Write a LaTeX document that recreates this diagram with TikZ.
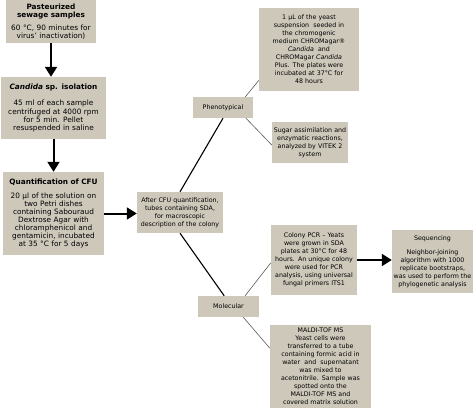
\documentclass[tikz,border=0pt]{standalone}
\usepackage{fontspec}
\setmainfont{DejaVu Sans}
\usetikzlibrary{arrows.meta,calc}
\definecolor{boxfill}{HTML}{CEC8BB}
\definecolor{thinline}{HTML}{5A5A5A}
\tikzset{
  box/.style={fill=boxfill, draw=none, inner sep=0pt, align=center, rectangle},
  bigtext/.style={font=\fontsize{7.35}{8.1}\selectfont},
  smalltext/.style={font=\fontsize{6.3}{8}\selectfont},
  bigarrow/.style={line width=2pt, -{Triangle[width=12pt,length=10pt]}},
  mainline/.style={line width=1.1pt, black},
  subline/.style={line width=0.6pt, thinline}
}
\begin{document}
\begin{tikzpicture}[x=1pt,y=-1pt]
\useasboundingbox (0,0) rectangle (474,409);
% left column
\node[box,bigtext,minimum width=90pt,minimum height=43pt,text width=90pt] (B1) at (51,21.5)
  {\textbf{Pasteurized}\\\textbf{sewage samples}\\[5pt]60 °C, 90 minutes for\\virus' inactivation)};
\node[box,bigtext,minimum width=105pt,minimum height=62pt,text width=105pt] (B2) at (53.5,108)
  {\textbf{\textit{Candida} sp. isolation}\\[8pt]45 ml of each sample\\centrifuged at 4000 rpm\\for 5 min. Pellet\\resuspended in saline};
\node[box,bigtext,minimum width=101pt,minimum height=83pt,text width=101pt] (B3) at (53.5,213.5)
  {\textbf{Quantification of CFU}\\[6pt]20 µl of the solution on\\two Petri dishes\\containing Sabouraud\\Dextrose Agar with\\chloramphenicol and\\gentamicin, incubated\\at 35 °C for 5 days};
\node[box,smalltext,minimum width=86pt,minimum height=41pt,text width=86pt] (B4) at (180,212.5)
  {After CFU quantification,\\tubes containing SDA,\\for macroscopic\\description of the colony};
% branches
\node[box,smalltext,minimum width=60pt,minimum height=21pt] (Ph) at (223,107.5) {Phenotypical};
\node[box,smalltext,minimum width=61pt,minimum height=21pt] (Mol) at (228.5,306.5) {Molecular};
\node[box,smalltext,minimum width=100pt,minimum height=83pt,text width=98pt] (UL) at (309,49.5)
  {1 µL of the yeast\\suspension\ \ seeded in\\the chromogenic\\medium CHROMagar®\\\textit{Candida}\ \ and\\CHROMagar \textit{Candida}\\Plus. The plates were\\incubated at 37°C for\\48 hours};
\node[box,smalltext,minimum width=76pt,minimum height=41pt,text width=76pt] (SG) at (310,142.5)
  {Sugar assimilation and\\enzymatic reactions,\\analyzed by VITEK 2\\system};
\node[box,smalltext,minimum width=86pt,minimum height=70pt,text width=86pt] (PCR) at (314,260)
  {Colony PCR – Yeats\\were grown in SDA\\plates at 30°C for 48\\hours. An unique colony\\were used for PCR\\analysis, using universal\\fungal primers ITS1};
\node[box,smalltext,minimum width=81pt,minimum height=63pt,text width=81pt] (SEQ) at (432.5,261.5)
  {Sequencing\\[6pt]Neighbor-joining\\algorithm with 1000\\replicate bootstraps,\\was used to perform the\\phylogenetic analysis};
\node[box,smalltext,minimum width=101pt,minimum height=83pt,text width=101pt] (MS) at (320.5,366.5)
  {MALDI-TOF MS\\Yeast cells were\\transferred to a tube\\containing formic acid in\\water\ \ and\ \ supernatant\\was mixed to\\acetonitrile. Sample was\\spotted onto the\\MALDI-TOF MS and\\covered matrix solution};
% arrows
\draw[bigarrow] (B1.south) -- (B1.south |- B2.north);
\draw[bigarrow] (B2.south) -- (B2.south |- B3.north);
\draw[bigarrow] (B3.east) -- (B3.east -| B4.west);
\draw[bigarrow] (PCR.east) -- (PCR.east -| SEQ.west);
% main branch lines
\draw[mainline] (B4.north) -- (Ph.south);
\draw[mainline] (B4.south) -- ($(Mol.north west)!0.43!(Mol.north east)$);
% sub lines
\draw[subline] ($(Ph.north west)!0.87!(Ph.north east)$) -- ($(UL.north west)!0.87!(UL.south west)$);
\draw[subline] ($(Ph.south west)!0.88!(Ph.south east)$) -- ($(SG.north west)!0.56!(SG.south west)$);
\draw[subline] ($(Mol.north west)!0.77!(Mol.north east)$) -- ($(PCR.north west)!0.54!(PCR.south west)$);
\draw[subline] ($(Mol.south west)!0.74!(Mol.south east)$) -- ($(MS.north west)!0.28!(MS.south west)$);
\end{tikzpicture}
\end{document}
